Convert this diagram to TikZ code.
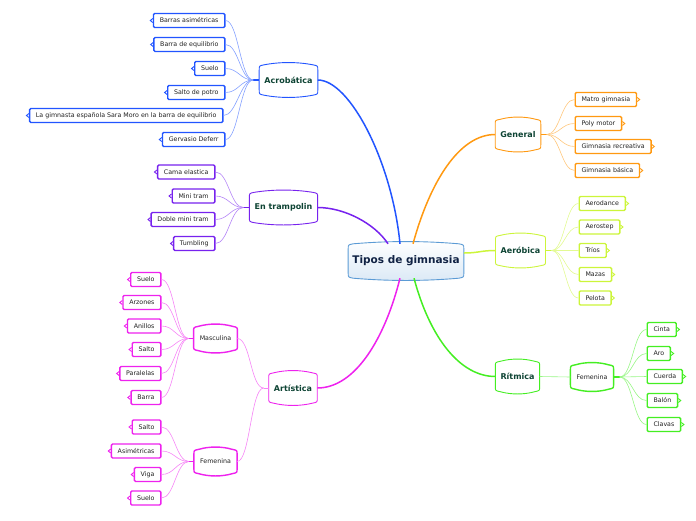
\documentclass[tikz,border=0pt]{standalone}
\usepackage{fontspec}
\setmainfont{DejaVu Sans}
\usetikzlibrary{calc,backgrounds}
\definecolor{cblue}{HTML}{2255FF}
\definecolor{cpurple}{HTML}{7722EE}
\definecolor{cmag}{HTML}{EE22EE}
\definecolor{corange}{HTML}{FF9911}
\definecolor{cyel}{HTML}{CCF53A}
\definecolor{cgreen}{HTML}{44EE22}
\definecolor{ctitle}{HTML}{0E4434}
\definecolor{cnavy}{HTML}{102244}
\definecolor{cleaf}{HTML}{222222}
\definecolor{ccent}{HTML}{5B9BD5}
\tikzset{
  leaf/.style={draw=#1, line width=1.4pt, rounded corners=1.2pt, fill=white,
    font=\fontsize{6.3}{7}\selectfont, text=cleaf, inner xsep=6.3pt, inner ysep=0pt,
    minimum height=14pt},
  mainn/.style={font=\bfseries\fontsize{8}{9.6}\selectfont, text=ctitle,
    inner xsep=5pt, minimum height=30pt},
  subn/.style={font=\fontsize{6.3}{7}\selectfont, text=cleaf,
    inner xsep=6pt, minimum height=24pt},
  bigline/.style={draw=#1, line width=1.5pt},
  twig/.style={draw=#1, line width=0.6pt},
}
\newcommand\bulgebox[3]{%
  \begin{pgfonlayer}{background}
  \path[draw=#2, #3] let \p1=(#1.south west), \p2=(#1.north east), \n1={\x2-\x1} in
   (\x1,\y1+5pt) -- (\x1,\y2-5pt) .. controls (\x1,\y2-1pt) .. (\x1+5pt,\y2)
   .. controls (\x1+0.35*\n1,\y2+3pt) and (\x2-0.35*\n1,\y2+3pt) .. (\x2-5pt,\y2)
   .. controls (\x2,\y2-1pt) .. (\x2,\y2-5pt) -- (\x2,\y1+5pt) .. controls (\x2,\y1+1pt) .. (\x2-5pt,\y1)
   .. controls (\x2-0.35*\n1,\y1-3pt) and (\x1+0.35*\n1,\y1-3pt) .. (\x1+5pt,\y1)
   .. controls (\x1,\y1+1pt) .. cycle;
  \end{pgfonlayer}}
% left leaf: name, color, x(east), y, text, hub
\newcommand\leafL[6]{%
  \node[leaf=#2, anchor=east] (#1) at (#3,#4) {#5};
  \draw[#2, line width=0.9pt] ($(#1.west)+(0,-2)$) -- ($(#1.west)+(-2.5,0)$) -- ($(#1.west)+(0,2)$);
  \draw[twig=#2!55] (#6) .. controls +(-13,0) and +(13,0) .. (#1.east);}
\newcommand\leafR[6]{%
  \node[leaf=#2, anchor=west] (#1) at (#3,#4) {#5};
  \draw[#2, line width=0.9pt] ($(#1.east)+(0,-2)$) -- ($(#1.east)+(2.5,0)$) -- ($(#1.east)+(0,2)$);
  \draw[twig=#2!55] (#6) .. controls +(13,0) and +(-13,0) .. (#1.west);}
\begin{document}
\begin{tikzpicture}[x=1pt,y=-1pt]
\useasboundingbox (0,0) rectangle (696,520);
% central
\node[font=\bfseries\fontsize{10.5}{12}\selectfont, text=cnavy, inner xsep=4pt, minimum height=34pt] (cent) at (406,261) {Tipos de gimnasia};
\bulgebox{cent}{ccent}{line width=0.9pt, top color=white, bottom color=ccent!22}
% main topics
\node[mainn] (acro) at (288.5,80) {Acrobática};
\bulgebox{acro}{cblue}{line width=0.9pt, fill=white}
\node[mainn] (tramp) at (283.5,207.5) {En trampolin};
\bulgebox{tramp}{cpurple}{line width=0.9pt, fill=white}
\node[mainn] (arti) at (293,388) {Artística};
\bulgebox{arti}{cmag}{line width=0.9pt, fill=white}
\node[mainn] (gen) at (518,134.5) {General};
\bulgebox{gen}{corange}{line width=0.9pt, fill=white}
\node[mainn] (aero) at (520.5,250.5) {Aeróbica};
\bulgebox{aero}{cyel}{line width=0.9pt, fill=white}
\node[mainn] (rit) at (517.5,376.5) {Rítmica};
\bulgebox{rit}{cgreen}{line width=0.9pt, fill=white}
% sub topics
\node[subn] (masc) at (215.5,338.5) {Masculina};
\bulgebox{masc}{cmag}{line width=1.4pt, fill=white}
\node[subn] (femA) at (215.5,461.5) {Femenina};
\bulgebox{femA}{cmag}{line width=1.4pt, fill=white}
\node[subn] (femR) at (592,377) {Femenina};
\bulgebox{femR}{cgreen}{line width=1.4pt, fill=white}
% main connectors
\draw[bigline=cblue] ($(cent.north)+(-6,0)$) .. controls +(-8,-82) and +(32,0) .. (acro.east);
\draw[bigline=cpurple] ($(cent.north)+(-18,0)$) .. controls +(-13,-20) and +(27,0) .. (tramp.east);
\draw[bigline=cmag] ($(cent.south)+(-6,0)$) .. controls +(-15,60) and +(38,0) .. (arti.east);
\draw[bigline=corange] ($(cent.north)+(7,0)$) .. controls +(17,-62) and +(-36,0) .. (gen.west);
\draw[bigline=cyel] ($(cent.east)+(0,-8)$) .. controls +(15,0) and +(-15,0) .. (aero.west);
\draw[bigline=cgreen] ($(cent.south)+(8,0)$) .. controls +(16,60) and +(-35,0) .. (rit.west);
% hubs
\coordinate (hacro) at ($(acro.west)+(-6,0)$);
\coordinate (htramp) at ($(tramp.west)+(-6,0)$);
\coordinate (harti) at ($(arti.west)+(-5,0)$);
\coordinate (hmasc) at ($(masc.west)+(-5,0)$);
\coordinate (hfemA) at ($(femA.west)+(-5,0)$);
\coordinate (hgen) at ($(gen.east)+(6,0)$);
\coordinate (haero) at ($(aero.east)+(6,0)$);
\coordinate (hfemR) at ($(femR.east)+(6,0)$);
\draw[cblue, line width=1.4pt] (hacro) -- (acro.west);
\draw[cpurple, line width=1.4pt] (htramp) -- (tramp.west);
\draw[cmag, line width=1.4pt] (hmasc) -- (masc.west);
\draw[cmag, line width=1.4pt] (hfemA) -- (femA.west);
\draw[corange, line width=1.4pt] (hgen) -- (gen.east);
\draw[cyel, line width=1.4pt] (haero) -- (aero.east);
\draw[cgreen, line width=1.4pt] (hfemR) -- (femR.east);
\draw[twig=cmag!55] (harti) -- (arti.west);
\draw[twig=cmag!55] (harti) .. controls +(-13,0) and +(13,0) .. (masc.east);
\draw[twig=cmag!55] (harti) .. controls +(-13,0) and +(13,0) .. (femA.east);
\draw[twig=cgreen!55] (rit.east) -- (femR.west);
% Acrobatica leaves
\leafL{a1}{cblue}{225.5}{20.5}{Barras asimétricas}{hacro}
\leafL{a2}{cblue}{225.5}{44.5}{Barra de equilibrio}{hacro}
\leafL{a3}{cblue}{225.5}{68.5}{Suelo}{hacro}
\leafL{a4}{cblue}{225.5}{92.5}{Salto de potro}{hacro}
\leafL{a5}{cblue}{223.5}{115.5}{La gimnasta española Sara Moro en la barra de equilibrio}{hacro}
\leafL{a6}{cblue}{225.5}{139.5}{Gervasio Deferr}{hacro}
% trampolin leaves
\leafL{t1}{cpurple}{215.5}{172}{Cama elastica}{htramp}
\leafL{t2}{cpurple}{215.5}{196}{Mini tram}{htramp}
\leafL{t3}{cpurple}{215.5}{219.5}{Doble mini tram}{htramp}
\leafL{t4}{cpurple}{215.5}{243.5}{Tumbling}{htramp}
% masculina leaves
\leafL{m1}{cmag}{161.5}{279.5}{Suelo}{hmasc}
\leafL{m2}{cmag}{161.5}{302.5}{Arzones}{hmasc}
\leafL{m3}{cmag}{161.5}{326}{Anillos}{hmasc}
\leafL{m4}{cmag}{161.5}{349.5}{Salto}{hmasc}
\leafL{m5}{cmag}{161.5}{373.5}{Paralelas}{hmasc}
\leafL{m6}{cmag}{161.5}{397.5}{Barra}{hmasc}
% femenina artistica leaves
\leafL{f1}{cmag}{161.5}{427}{Salto}{hfemA}
\leafL{f2}{cmag}{161.5}{451}{Asimétricas}{hfemA}
\leafL{f3}{cmag}{161.5}{474.5}{Viga}{hfemA}
\leafL{f4}{cmag}{161.5}{498}{Suelo}{hfemA}
% general leaves
\leafR{g1}{corange}{574.5}{99.5}{Matro gimnasia}{hgen}
\leafR{g2}{corange}{574.5}{123.5}{Poly motor}{hgen}
\leafR{g3}{corange}{574.5}{146.5}{Gimnasia recreativa}{hgen}
\leafR{g4}{corange}{574.5}{170.5}{Gimnasia básica}{hgen}
% aerobica leaves
\leafR{e1}{cyel}{578.5}{203.5}{Aerodance}{haero}
\leafR{e2}{cyel}{578.5}{227}{Aerostep}{haero}
\leafR{e3}{cyel}{578.5}{250.5}{Tríos}{haero}
\leafR{e4}{cyel}{578.5}{274.5}{Mazas}{haero}
\leafR{e5}{cyel}{578.5}{298}{Pelota}{haero}
% ritmica leaves
\leafR{r1}{cgreen}{646.5}{329.5}{Cinta}{hfemR}
\leafR{r2}{cgreen}{646.5}{353.5}{Aro}{hfemR}
\leafR{r3}{cgreen}{646.5}{376.5}{Cuerda}{hfemR}
\leafR{r4}{cgreen}{646.5}{400.5}{Balón}{hfemR}
\leafR{r5}{cgreen}{646.5}{424.5}{Clavas}{hfemR}
\end{tikzpicture}
\end{document}
